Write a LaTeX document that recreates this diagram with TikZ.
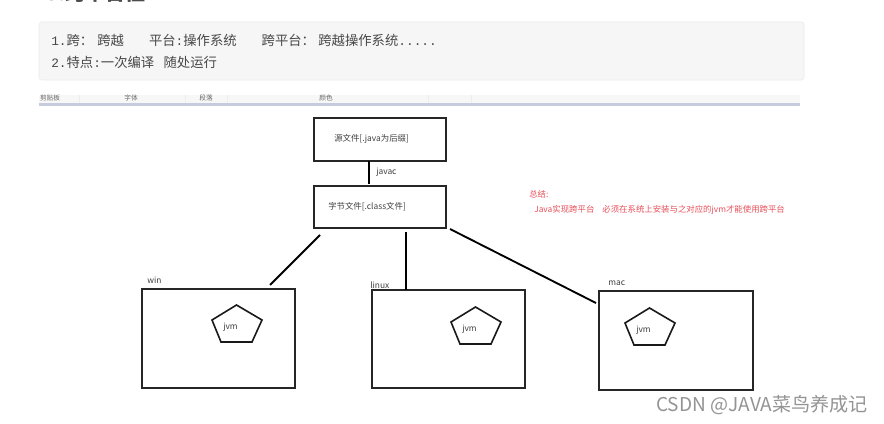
\documentclass[tikz,border=0pt]{standalone}
\usepackage{fontspec}
\setmainfont{Noto Sans CJK SC}
\newfontfamily\asc{Liberation Mono}[Scale=0.96]
\usepackage{tikz}
\usetikzlibrary{calc}
\definecolor{codebg}{HTML}{F6F6F6}
\definecolor{codeedge}{HTML}{EBEBEB}
\definecolor{ribbon}{HTML}{C6CCDD}
\definecolor{notered}{HTML}{E8505A}
\tikzset{
  box/.style={draw=black!85,line width=1.3pt,fill=white,inner sep=0pt},
  link/.style={black,line width=1.4pt},
  jvmshape/.style={draw=black!90,line width=1.2pt},
  small/.style={inner sep=0pt,anchor=west,font=\fontsize{6.3}{7}\selectfont,text=black!75},
  code/.style={inner sep=0pt,anchor=west,font=\fontsize{10}{12}\selectfont,text=black!72},
  tab/.style={inner sep=0pt,font=\fontsize{5}{6}\selectfont,text=black!60},
}
\begin{document}
\begin{tikzpicture}[x=0.75pt,y=-0.75pt]
\useasboundingbox (0,0) rectangle (884,424);
\fill[white] (0,0) rectangle (884,424);
% heading, cut by the top edge
\begin{scope}
\clip (0,0) rectangle (884,424);
\node[inner sep=0pt,anchor=west,font=\fontsize{15}{17}\selectfont\bfseries,text=black!70](head)at(46,-7){3.跨平台性};
\end{scope}
% code block
\draw[fill=codebg,draw=codeedge,rounded corners=2pt] (39,22) rectangle (804,80);
\node[code](line1)at(51,40.5){{\asc 1.}跨：\hspace{3pt}跨越{\asc\ \ \ }\hspace{1.5pt}平台{\asc :}操作系统{\asc\ \ \ }\hspace{1.5pt}跨平台：\hspace{2.5pt}跨越操作系统{\asc .....}};
\node[code](line2)at(51,62){{\asc 2.}特点{\asc :}一次编译\hspace{7pt}随处运行};
% ribbon
\fill[black!3] (39,95) rectangle (800,103);
\fill[ribbon] (39,103) rectangle (800,106);
\foreach \x in {79,185,227,428,471}{
  \draw[black!7,line width=0.4pt] (\x,95)--(\x,103);
}
\node[tab](tab1)at(50,98){剪贴板};
\node[tab](tab2)at(131,98){字体};
\node[tab](tab3)at(206,98){段落};
\node[tab](tab4)at(326,98){颜色};
% boxes
\node[box,minimum width=99pt,minimum height=32pt](src)at(379.7,139.5){};
\node[box,minimum width=99pt,minimum height=32pt](byte)at(379.7,207){};
\node[box,minimum width=115pt,minimum height=74pt](win)at(218.5,338.5){};
\node[box,minimum width=115pt,minimum height=73.5pt](linux)at(448.5,339){};
\node[box,minimum width=115.5pt,minimum height=74pt](mac)at(676,340.5){};
\node[small](srctext)at(334,139){源文件[.java为后缀]};
\node[small](bytetext)at(328,207){字节文件[.class文件]};
% connectors
\coordinate (jtop) at (369,161);
\coordinate (jbot) at (369,184);
\draw[link] (jtop)--(jbot);
\node[small](javac)at(376,172){javac};
\coordinate (w1) at (320,235);
\coordinate (w2) at (270,285);
\coordinate (l1) at (406,232);
\coordinate (l2) at (406,290);
\coordinate (m1) at (450,229);
\coordinate (m2) at (596,303);
\draw[link] (w1)--(w2);
\draw[link] (l1)--(l2);
\draw[link] (m1)--(m2);
\node[small](wintext)at(147,280){win};
\node[small](linuxtext)at(370,285){linux};
\node[small](mactext)at(608,283){mac};
% jvm pentagons
\foreach \name/\x/\y in {a/212/305,b/451/307,c/625/308}{
  \draw[jvmshape] ($(\x,\y)+(24.5,0)$)--($(\x,\y)+(50,15)$)--($(\x,\y)+(40,37)$)--($(\x,\y)+(9,37)$)--($(\x,\y)+(0,15)$)--cycle;
  \node[small](jvm\name)at($(\x,\y)+(11,22)$){jvm};
}
% red note
\node[small,text=notered](note1)at(529,194.5){总结:};
\node[small,text=notered](note2)at(534,209.5){Java实现跨平台\hspace{0.95em}必须在系统上安装与之对应的jvm才能使用跨平台};
% watermark
\node[inner sep=0pt,anchor=west,font=\fontsize{14.3}{16}\selectfont,text=black!42](mark)at(656,405){CSDN @JAVA菜鸟养成记};
\end{tikzpicture}
\end{document}
